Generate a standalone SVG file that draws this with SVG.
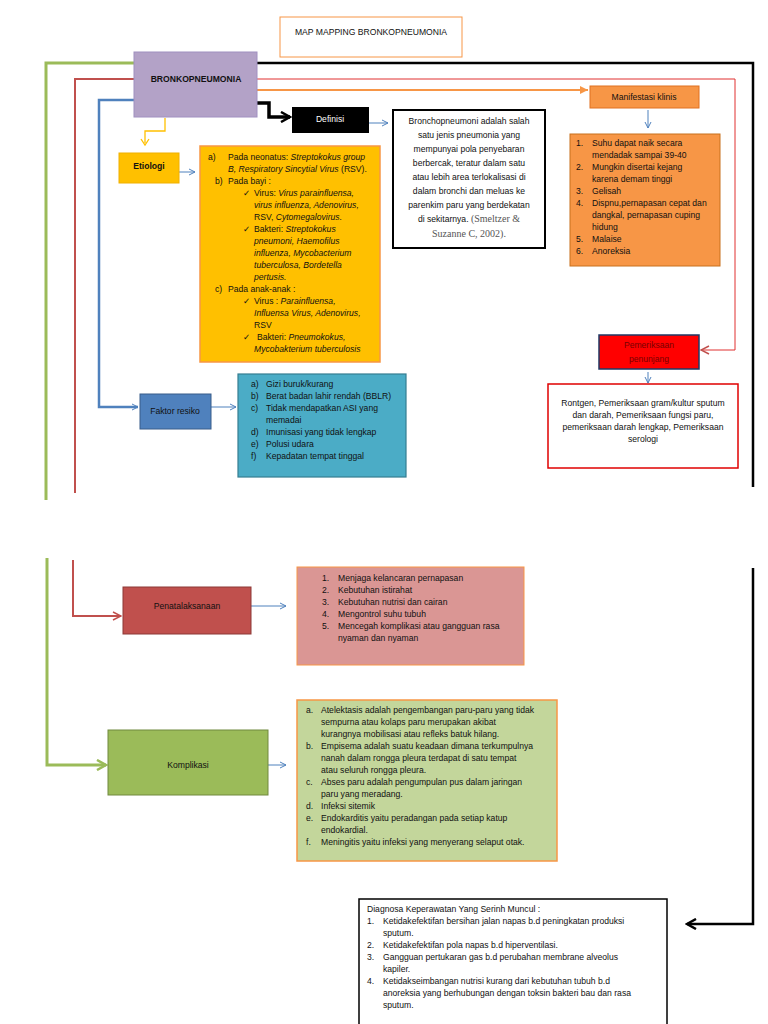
<svg xmlns="http://www.w3.org/2000/svg" width="768" height="1024" viewBox="0 0 768 1024">
<defs>
<style>
text{font-family:"Liberation Sans","DejaVu Sans",sans-serif;font-size:8.6px;fill:#111}
.b{font-weight:bold}
.i{font-style:italic}
.s{font-family:"Liberation Serif",serif;fill:#555;font-size:10px}
.c{text-anchor:middle}
.ln{fill:none}
</style>
<marker id="ab" markerWidth="8" markerHeight="8" refX="7" refY="4" orient="auto" markerUnits="userSpaceOnUse"><path d="M1,1 L7,4 L1,7" fill="none" stroke="#4f81bd" stroke-width="1"/></marker>
<marker id="ao" markerWidth="10" markerHeight="10" refX="9" refY="5" orient="auto" markerUnits="userSpaceOnUse"><path d="M1,1 L9,5 L1,9 Z" fill="#f79646"/></marker>
<marker id="ar" markerWidth="10" markerHeight="10" refX="9" refY="5" orient="auto" markerUnits="userSpaceOnUse"><path d="M1,1 L9,5 L1,9" fill="none" stroke="#c0504d" stroke-width="1.5"/></marker>
<marker id="ag" markerWidth="12" markerHeight="12" refX="10" refY="6" orient="auto" markerUnits="userSpaceOnUse"><path d="M1,1 L10,6 L1,11" fill="none" stroke="#9bbb59" stroke-width="2.5"/></marker>
<marker id="ak" markerWidth="12" markerHeight="12" refX="10" refY="6" orient="auto" markerUnits="userSpaceOnUse"><path d="M1,1 L10,6 L1,11" fill="none" stroke="#000" stroke-width="2.5"/></marker>
<marker id="ay" markerWidth="8" markerHeight="8" refX="4" refY="7" orient="auto" markerUnits="userSpaceOnUse"><path d="M1,1 L4,7 L7,1" fill="none" stroke="#ffc000" stroke-width="1" transform="rotate(-90 4 4)"/></marker>
</defs>
<rect width="768" height="1024" fill="#fff"/>
<g id="connectors">
<path class="ln" d="M134,63 H46 V500" stroke="#9bbb59" stroke-width="3"/>
<path class="ln" d="M47,558 V765 H106" stroke="#9bbb59" stroke-width="3" marker-end="url(#ag)"/>
<path class="ln" d="M134,79 H75 V493" stroke="#c0504d" stroke-width="2"/>
<path class="ln" d="M73,560 V616 H121" stroke="#c0504d" stroke-width="2" marker-end="url(#ar)"/>
<path class="ln" d="M257,79 H735 V350 H701" stroke="#e03030" stroke-width="1" marker-end="url(#ar)"/>
<path class="ln" d="M134,100 H99 V407 H138" stroke="#4f81bd" stroke-width="2.5" marker-end="url(#ab)"/>
<path class="ln" d="M257,63 H753 V487" stroke="#000" stroke-width="2.5"/>
<path class="ln" d="M753,568 V924 H687" stroke="#000" stroke-width="2.5" marker-end="url(#ak)"/>
<path class="ln" d="M257,90 H588" stroke="#f79646" stroke-width="2" marker-end="url(#ao)"/>
<path class="ln" d="M257,103 H269 V117 H290" stroke="#000" stroke-width="3.5" marker-end="url(#ak)"/>
<path class="ln" d="M165,118 V131 H145 V143" stroke="#ffc000" stroke-width="1.3"/>
<path d="M141,139 L145,145 L149,139" fill="none" stroke="#ffc000" stroke-width="1.3"/>
<path class="ln" d="M369,123 H388" stroke="#4f81bd" marker-end="url(#ab)"/>
<path class="ln" d="M179,172 H195" stroke="#4f81bd" marker-end="url(#ab)"/>
<path class="ln" d="M648,110 V128" stroke="#4f81bd" marker-end="url(#ab)"/>
<path class="ln" d="M648,372 V383" stroke="#4f81bd" marker-end="url(#ab)"/>
<path class="ln" d="M211,407 H236" stroke="#4f81bd" marker-end="url(#ab)"/>
<path class="ln" d="M251,606 H286" stroke="#4f81bd" marker-end="url(#ab)"/>
<path class="ln" d="M268,765 H286" stroke="#4f81bd" marker-end="url(#ab)"/>
</g>
<g id="title"><rect x="280" y="17" width="182" height="40" fill="#fff" stroke="#f79646"/><text x="371" y="35" class="c">MAP MAPPING BRONKOPNEUMONIA</text></g>
<g id="bronko"><rect x="134" y="52" width="123" height="65" fill="#b3a2c7" stroke="#a090c0"/><text x="196" y="82" class="c b">BRONKOPNEUMONIA</text></g>
<g id="definisi"><rect x="292" y="107" width="77" height="26" fill="#000"/><text x="330" y="122" class="c" fill="#fff" style="fill:#fff">Definisi</text></g>
<g id="definisi-isi"><rect x="393" y="110" width="152" height="138" fill="#fff" stroke="#000" stroke-width="2"/>
<text class="c"><tspan x="469" y="124">Bronchopneumoni adalah salah</tspan><tspan x="469" y="138">satu jenis pneumonia yang</tspan><tspan x="469" y="152">mempunyai pola penyebaran</tspan><tspan x="469" y="166">berbercak, teratur dalam satu</tspan><tspan x="469" y="180">atau lebih area terlokalisasi di</tspan><tspan x="469" y="194">dalam bronchi dan meluas ke</tspan><tspan x="469" y="208">parenkim paru yang berdekatan</tspan><tspan x="469" y="222">di sekitarnya. <tspan class="s">(Smeltzer &amp;</tspan></tspan></text>
<text x="469" y="237" class="c s">Suzanne C, 2002).</text></g>
<g id="etiologi"><rect x="119" y="153" width="60" height="30" fill="#ffc000" stroke="#f0b000"/><text x="149" y="169" class="c b">Etiologi</text></g>
<g id="etiologi-isi"><rect x="200" y="146" width="180" height="216" fill="#ffc000" stroke="#f79646" stroke-width="1.5"/>
<text x="208" y="160">a)</text><text x="228" y="160">Pada neonatus: <tspan class="i">Streptokokus group</tspan></text>
<text x="228" y="172" class="i">B, Respiratory Sincytial Virus <tspan style="font-style:normal">(RSV).</tspan></text>
<text x="215" y="184">b)</text><text x="228" y="184">Pada bayi :</text>
<text x="243" y="196">✓</text><text x="254" y="196">Virus: <tspan class="i">Virus parainfluensa,</tspan></text>
<text x="254" y="208" class="i">virus influenza, Adenovirus,</text>
<text x="254" y="220" class="i"><tspan style="font-style:normal">RSV,</tspan> Cytomegalovirus.</text>
<text x="243" y="232">✓</text><text x="254" y="232">Bakteri: <tspan class="i">Streptokokus</tspan></text>
<text x="254" y="244" class="i">pneumoni, Haemofilus</text>
<text x="254" y="256" class="i">influenza, Mycobacterium</text>
<text x="254" y="268" class="i">tuberculosa, Bordetella</text>
<text x="254" y="280" class="i">pertusis.</text>
<text x="215" y="292">c)</text><text x="228" y="292">Pada anak-anak :</text>
<text x="243" y="304">✓</text><text x="254" y="304">Virus : <tspan class="i">Parainfluensa,</tspan></text>
<text x="254" y="316" class="i">Influensa Virus, Adenovirus,</text>
<text x="254" y="328">RSV</text>
<text x="243" y="340">✓</text><text x="257" y="340">Bakteri: <tspan class="i">Pneumokokus,</tspan></text>
<text x="254" y="352" class="i">Mycobakterium tuberculosis</text></g>
<g id="manifestasi"><rect x="590" y="86" width="109" height="22" fill="#f79646" stroke="#e07020"/><text x="644" y="100" class="c">Manifestasi klinis</text></g>
<g id="manifestasi-isi"><rect x="570" y="134" width="150" height="132" fill="#f79646" stroke="#c8701c"/>
<text x="576" y="146">1.</text><text x="592" y="146">Suhu dapat naik secara</text><text x="592" y="158">mendadak sampai 39-40</text>
<text x="576" y="170">2.</text><text x="592" y="170">Mungkin disertai kejang</text><text x="592" y="182">karena demam tinggi</text>
<text x="576" y="194">3.</text><text x="592" y="194">Gelisah</text>
<text x="576" y="206">4.</text><text x="592" y="206">Dispnu,pernapasan cepat dan</text><text x="592" y="218">dangkal, pernapasan cuping</text><text x="592" y="230">hidung</text>
<text x="576" y="242">5.</text><text x="592" y="242">Malaise</text>
<text x="576" y="254">6.</text><text x="592" y="254">Anoreksia</text></g>
<g id="pemeriksaan"><rect x="599" y="335" width="100" height="34" fill="#ff0000" stroke="#1f3864" stroke-width="1.5"/><text x="649" y="348" class="c" style="fill:#7a0000">Pemeriksaan</text><text x="649" y="362" class="c" style="fill:#7a0000">penunjang</text></g>
<g id="pemeriksaan-isi"><rect x="548" y="384" width="190" height="84" fill="#fff" stroke="#e00000" stroke-width="1.5"/>
<text class="c"><tspan x="643" y="406">Rontgen, Pemeriksaan gram/kultur sputum</tspan><tspan x="643" y="418">dan darah, Pemeriksaan fungsi paru,</tspan><tspan x="643" y="430">pemeriksaan darah lengkap, Pemeriksaan</tspan><tspan x="643" y="442">serologi</tspan></text></g>
<g id="faktor"><rect x="140" y="394" width="71" height="35" fill="#4f81bd" stroke="#385d8a"/><text x="175" y="414" class="c">Faktor resiko</text></g>
<g id="faktor-isi"><rect x="238" y="374" width="168" height="103" fill="#4bacc6" stroke="#357d91" stroke-width="1.2"/>
<text x="251" y="387">a)</text><text x="266" y="387">Gizi buruk/kurang</text>
<text x="251" y="399">b)</text><text x="266" y="399">Berat badan lahir rendah (BBLR)</text>
<text x="251" y="411">c)</text><text x="266" y="411">Tidak   mendapatkan  ASI  yang</text><text x="266" y="423">memadai</text>
<text x="251" y="435">d)</text><text x="266" y="435">Imunisasi yang tidak lengkap</text>
<text x="251" y="447">e)</text><text x="266" y="447">Polusi udara</text>
<text x="251" y="459">f)</text><text x="266" y="459">Kepadatan tempat tinggal</text></g>
<g id="penatalaksanaan"><rect x="123" y="587" width="128" height="47" fill="#c0504d" stroke="#8c3836"/><text x="187" y="609" class="c">Penatalaksanaan</text></g>
<g id="penatalaksanaan-isi"><rect x="297" y="567" width="227" height="98" fill="#da9694" stroke="#f79646"/>
<text x="322" y="581">1.</text><text x="338" y="581">Menjaga kelancaran pernapasan</text>
<text x="322" y="593">2.</text><text x="338" y="593">Kebutuhan istirahat</text>
<text x="322" y="605">3.</text><text x="338" y="605">Kebutuhan nutrisi dan cairan</text>
<text x="322" y="617">4.</text><text x="338" y="617">Mengontrol suhu tubuh</text>
<text x="322" y="629">5.</text><text x="338" y="629">Mencegah  komplikasi  atau  gangguan  rasa</text><text x="338" y="641">nyaman dan nyaman</text></g>
<g id="komplikasi"><rect x="108" y="730" width="160" height="65" fill="#9bbb59" stroke="#71893f"/><text x="188" y="768" class="c">Komplikasi</text></g>
<g id="komplikasi-isi"><rect x="297" y="700" width="260" height="161" fill="#c3d69b" stroke="#f79646" stroke-width="1.5"/>
<text x="306" y="713">a.</text><text x="321" y="713">Atelektasis adalah pengembangan paru-paru yang tidak</text><text x="321" y="725">sempurna   atau   kolaps   paru   merupakan   akibat</text><text x="321" y="737">kurangnya mobilisasi atau refleks batuk hilang.</text>
<text x="306" y="749">b.</text><text x="321" y="749">Empisema adalah suatu keadaan dimana terkumpulnya</text><text x="321" y="761">nanah  dalam  rongga  pleura  terdapat  di  satu  tempat</text><text x="321" y="773">atau seluruh rongga pleura.</text>
<text x="306" y="785">c.</text><text x="321" y="785">Abses  paru  adalah  pengumpulan  pus  dalam  jaringan</text><text x="321" y="797">paru yang meradang.</text>
<text x="306" y="809">d.</text><text x="321" y="809">Infeksi sitemik</text>
<text x="306" y="821">e.</text><text x="321" y="821">Endokarditis   yaitu   peradangan   pada   setiap   katup</text><text x="321" y="833">endokardial.</text>
<text x="306" y="845">f.</text><text x="321" y="845">Meningitis yaitu infeksi yang menyerang selaput otak.</text></g>
<g id="diagnosa"><rect x="359" y="899" width="308" height="130" fill="#fff" stroke="#000" stroke-width="1.5"/>
<text x="367" y="912">Diagnosa Keperawatan Yang Serinh Muncul :</text>
<text x="367" y="924">1.</text><text x="383" y="924">Ketidakefektifan  bersihan  jalan  napas  b.d  peningkatan  produksi</text><text x="383" y="936">sputum.</text>
<text x="367" y="948">2.</text><text x="383" y="948">Ketidakefektifan pola napas b.d hiperventilasi.</text>
<text x="367" y="960">3.</text><text x="383" y="960">Gangguan  pertukaran  gas  b.d  perubahan  membrane  alveolus</text><text x="383" y="972">kapiler.</text>
<text x="367" y="984">4.</text><text x="383" y="984">Ketidakseimbangan   nutrisi  kurang  dari  kebutuhan  tubuh  b.d</text><text x="383" y="996">anoreksia yang berhubungan dengan toksin bakteri bau dan rasa</text><text x="383" y="1008">sputum.</text></g>
</svg>
